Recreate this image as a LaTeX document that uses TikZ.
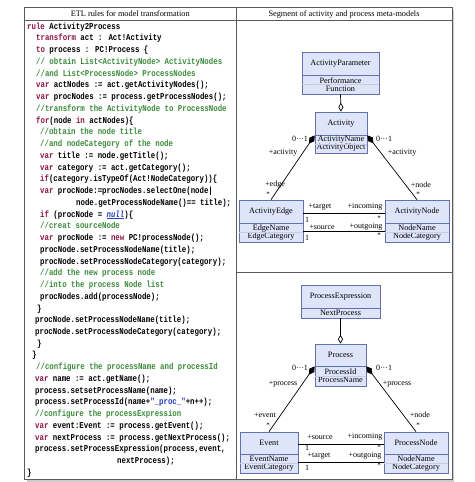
\documentclass[tikz,border=0pt]{standalone}
\usepackage{fontspec}
\setmainfont{Liberation Serif}
\newfontfamily\codefont[FakeStretch=0.82]{Liberation Mono}
\usetikzlibrary{arrows.meta,calc}
\definecolor{kwc}{RGB}{140,20,70}
\definecolor{cmc}{RGB}{60,140,60}
\definecolor{blc}{RGB}{40,60,200}
\definecolor{umlfill}{RGB}{222,228,250}
\definecolor{umldraw}{RGB}{100,112,175}
\definecolor{framec}{RGB}{90,90,90}
\newcommand\kw[1]{\textcolor{kwc}{#1}}
\newcommand\cm[1]{\textcolor{cmc}{#1}}
\newcommand\bl[1]{\textcolor{blc}{#1}}
\begin{document}
\begin{tikzpicture}[x=1pt,y=-1pt,
  code/.style={anchor=west,inner sep=0pt,text height=6pt,text depth=1.5pt,font=\codefont\bfseries\fontsize{9}{10}\selectfont},
  hdr/.style={inner sep=0pt,font=\fontsize{8.3}{9}\selectfont},
  umlh/.style={draw=umldraw,fill=umlfill,line width=0.7pt,inner sep=0pt,font=\fontsize{8.2}{8.3}\selectfont},
  umla/.style={umlh,align=center},
  sep/.style={draw=umldraw!35,line width=0.4pt},
  conn/.style={draw=black,line width=0.7pt},
  comp/.style={conn,-{Diamond[length=10pt,width=6pt]}},
  aggr/.style={conn,-{Diamond[open,length=9pt,width=5pt]}},
  lbl/.style={inner sep=0pt,font=\fontsize{8}{8.5}\selectfont},
  star/.style={inner sep=0pt,font=\fontsize{7}{7}\selectfont},
  frame/.style={draw=framec,line width=0.8pt}]
\useasboundingbox (0,0) rectangle (474,482);
% shadow
\fill[gray!40] (26.5,479) rectangle (454,481.8);
\fill[gray!40] (452,9.5) rectangle (454,481.8);
\fill[white] (24.5,7.5) rectangle (452,479);
% frame
\draw[frame] (24.5,7.5) rectangle (452,479);
\draw[frame] (24.5,20.5) -- (452,20.5);
\draw[frame] (236,7.5) -- (236,479);
\draw[frame] (236,272) -- (452,272);
\node[hdr] (h1) at (130.25,14) {ETL rules for model transformation};
\node[hdr] (h2) at (344,14) {Segment of activity and process meta-models};
% code
\node[code] (c1) at (27,27.00) {\kw{rule} Activity2Process};
\node[code] (c2) at (36,38.74) {\kw{transform} act : Act!Activity};
\node[code] (c3) at (36,50.48) {\kw{to} process : PC!Process \{};
\node[code] (c4) at (36,62.22) {\cm{// obtain List<ActivityNode> ActivityNodes}};
\node[code] (c5) at (36,73.96) {\cm{//and List<ProcessNode> ProcessNodes}};
\node[code] (c6) at (36,85.70) {\kw{var} actNodes := act.getActivityNodes();};
\node[code] (c7) at (36,97.44) {\kw{var} procNodes := process.getProcessNodes();};
\node[code] (c8) at (36,109.18) {\cm{//transform the ActivityNode to ProcessNode}};
\node[code] (c9) at (36,120.92) {\kw{for}(node \kw{in} actNodes)\{};
\node[code] (c10) at (40,132.66) {\cm{//obtain the node title}};
\node[code] (c11) at (40,144.40) {\cm{//and nodeCategory of the node}};
\node[code] (c12) at (40,156.14) {\kw{var} title := node.getTitle();};
\node[code] (c13) at (40,167.88) {\kw{var} category := act.getCategory();};
\node[code] (c14) at (40,179.62) {\kw{if}(category.isTypeOf(Act!NodeCategory))\{};
\node[code] (c15) at (40,191.36) {\kw{var} procNode:=procNodes.selectOne(node|};
\node[code] (c16) at (76,203.10) {node.getProcessNodeName()== title);};
\node[code] (c17) at (40,214.84) {\kw{if} (procNode = \bl{\underline{\textit{null}}})\{};
\node[code] (c18) at (40,226.58) {\cm{//creat sourceNode}};
\node[code] (c19) at (40,238.32) {\kw{var} procNode := \kw{new} PC!processNode();};
\node[code] (c20) at (40,250.06) {procNode.setProcessNodeName(title);};
\node[code] (c21) at (40,261.80) {procNode.setProcessNodeCategory(category);};
\node[code] (c22) at (40,273.54) {\cm{//add the new process node}};
\node[code] (c23) at (40,285.28) {\cm{//into the process Node list}};
\node[code] (c24) at (40,297.02) {procNodes.add(processNode);};
\node[code] (c25) at (37,308.76) {\}};
\node[code] (c26) at (35,320.50) {procNode.setProcessNodeName(title);};
\node[code] (c27) at (35,332.24) {procNode.setProcessNodeCategory(category);};
\node[code] (c28) at (37,343.98) {\}};
\node[code] (c29) at (32,355.72) {\}};
\node[code] (c30) at (36,367.46) {\cm{//configure the processName and processId}};
\node[code] (c31) at (35,379.20) {\kw{var} name := act.getName();};
\node[code] (c32) at (35,390.94) {process.setsetProcessName(name);};
\node[code] (c33) at (35,402.68) {process.setProcessId(name+\bl{"\_proc\_"}+n++);};
\node[code] (c34) at (35,414.42) {\cm{//configure the processExpression}};
\node[code] (c35) at (35,426.16) {\kw{var} event:Event := process.getEvent();};
\node[code] (c36) at (35,437.90) {\kw{var} nextProcess := process.getNextProcess();};
\node[code] (c37) at (35,449.64) {process.setProcessExpression(process,event,};
\node[code] (c38) at (117,461.38) {nextProcess);};
\node[code] (c39) at (27,473.12) {\}};
% ===== activity meta-model =====
\node[umlh,minimum width=77pt,minimum height=23pt] (apH) at (340.5,63.5) {ActivityParameter};
\node[umla,minimum width=77pt,minimum height=19pt] (apA) at (340.5,84.5) {Performance\\Function};
\draw[sep] (apA.west) -- (apA.east);
\node[umlh,minimum width=52pt,minimum height=23pt] (actH) at (341,123.5) {Activity};
\node[umla,minimum width=52pt,minimum height=18pt] (actA) at (341,144) {ActivityName\\ActivityObject};
\draw[sep] (actA.west) -- (actA.east);
\node[umlh,minimum width=64pt,minimum height=23pt] (aeH) at (271,211.5) {ActivityEdge};
\node[umla,minimum width=64pt,minimum height=19pt] (aeA) at (271,232.5) {EdgeName\\EdgeCategory};
\draw[sep] (aeA.west) -- (aeA.east);
\node[umlh,minimum width=64pt,minimum height=23pt] (anH) at (417,211.5) {ActivityNode};
\node[umla,minimum width=64pt,minimum height=19pt] (anA) at (417,232.5) {NodeName\\NodeCategory};
\draw[sep] (anA.west) -- (anA.east);
\draw[aggr] (apA.south) -- (actH.north);
\draw[comp] (aeH.north) -- (actH.south west);
\draw[comp] (anH.north) -- (actH.south east);
\draw[conn] ($(aeH.east)+(0,1.5)$) -- ($(anH.west)+(0,1.5)$);
\draw[conn] ($(aeA.east)+(0,-1.5)$) -- ($(anA.west)+(0,-1.5)$);
\node[lbl] (t1) at (300,139) {0···1};
\node[lbl] (t2) at (384,139) {0···1};
\node[lbl] (t3) at (283,153) {+activity};
\node[lbl] (t4) at (402,153) {+activity};
\node[lbl] (t5) at (275,185) {+edge};
\node[star] (t6) at (268,194) {*};
\node[lbl] (t7) at (421,185) {+node};
\node[star] (t8) at (418,194) {*};
\node[lbl] (t9) at (320,207) {+target};
\node[lbl] (t10) at (365,207) {+incoming};
\node[lbl] (t11) at (307,220) {1};
\node[star] (t12) at (379,218.5) {*};
\node[lbl] (t13) at (322,227) {+source};
\node[lbl] (t14) at (366,226.5) {+outgoing};
\node[lbl] (t15) at (307,238) {1};
\node[star] (t16) at (379,235) {*};
% ===== process meta-model =====
\node[umlh,minimum width=79pt,minimum height=23pt] (peH) at (340.5,296.5) {ProcessExpression};
\node[umla,minimum width=79pt,minimum height=10pt] (peA) at (340.5,313) {NextProcess};
\node[umlh,minimum width=51pt,minimum height=22pt] (prH) at (340.5,355) {Process};
\node[umla,minimum width=51pt,minimum height=20pt] (prA) at (340.5,376) {ProcessId\\ProcessName};
\draw[sep] (prA.west) -- (prA.east);
\node[umlh,minimum width=58pt,minimum height=22pt] (evH) at (269,443) {Event};
\node[umla,minimum width=58pt,minimum height=19pt] (evA) at (269,463.5) {EventName\\EventCategory};
\draw[sep] (evA.west) -- (evA.east);
\node[umlh,minimum width=64pt,minimum height=22pt] (pnH) at (416,443) {ProcessNode};
\node[umla,minimum width=64pt,minimum height=19pt] (pnA) at (416,463.5) {NodeName\\NodeCategory};
\draw[sep] (pnA.west) -- (pnA.east);
\draw[aggr] (peA.south) -- (prH.north);
\draw[comp] (evH.north) -- (prH.south west);
\draw[comp] (pnH.north) -- (prH.south east);
\draw[conn] ($(evH.east)+(0,1)$) -- ($(pnH.west)+(0,1)$);
\draw[conn] ($(evA.east)+(0,-1.5)$) -- ($(pnA.west)+(0,-1.5)$);
\node[lbl] (p1) at (300,368) {0···1};
\node[lbl] (p2) at (384,368) {0···1};
\node[lbl] (p3) at (283,384) {+process};
\node[lbl] (p4) at (397,384) {+process};
\node[lbl] (p5) at (265,415) {+event};
\node[star] (p6) at (268,425) {*};
\node[lbl] (p7) at (420,415) {+node};
\node[star] (p8) at (418,425) {*};
\node[lbl] (p9) at (320,437) {+source};
\node[lbl] (p10) at (365,437) {+incoming};
\node[lbl] (p11) at (307,448) {1};
\node[star] (p12) at (379,447.5) {*};
\node[lbl] (p13) at (319,456) {+target};
\node[lbl] (p14) at (365,456) {+outgoing};
\node[lbl] (p15) at (307,468) {1};
\node[star] (p16) at (379,465) {*};
\end{tikzpicture}
\end{document}
